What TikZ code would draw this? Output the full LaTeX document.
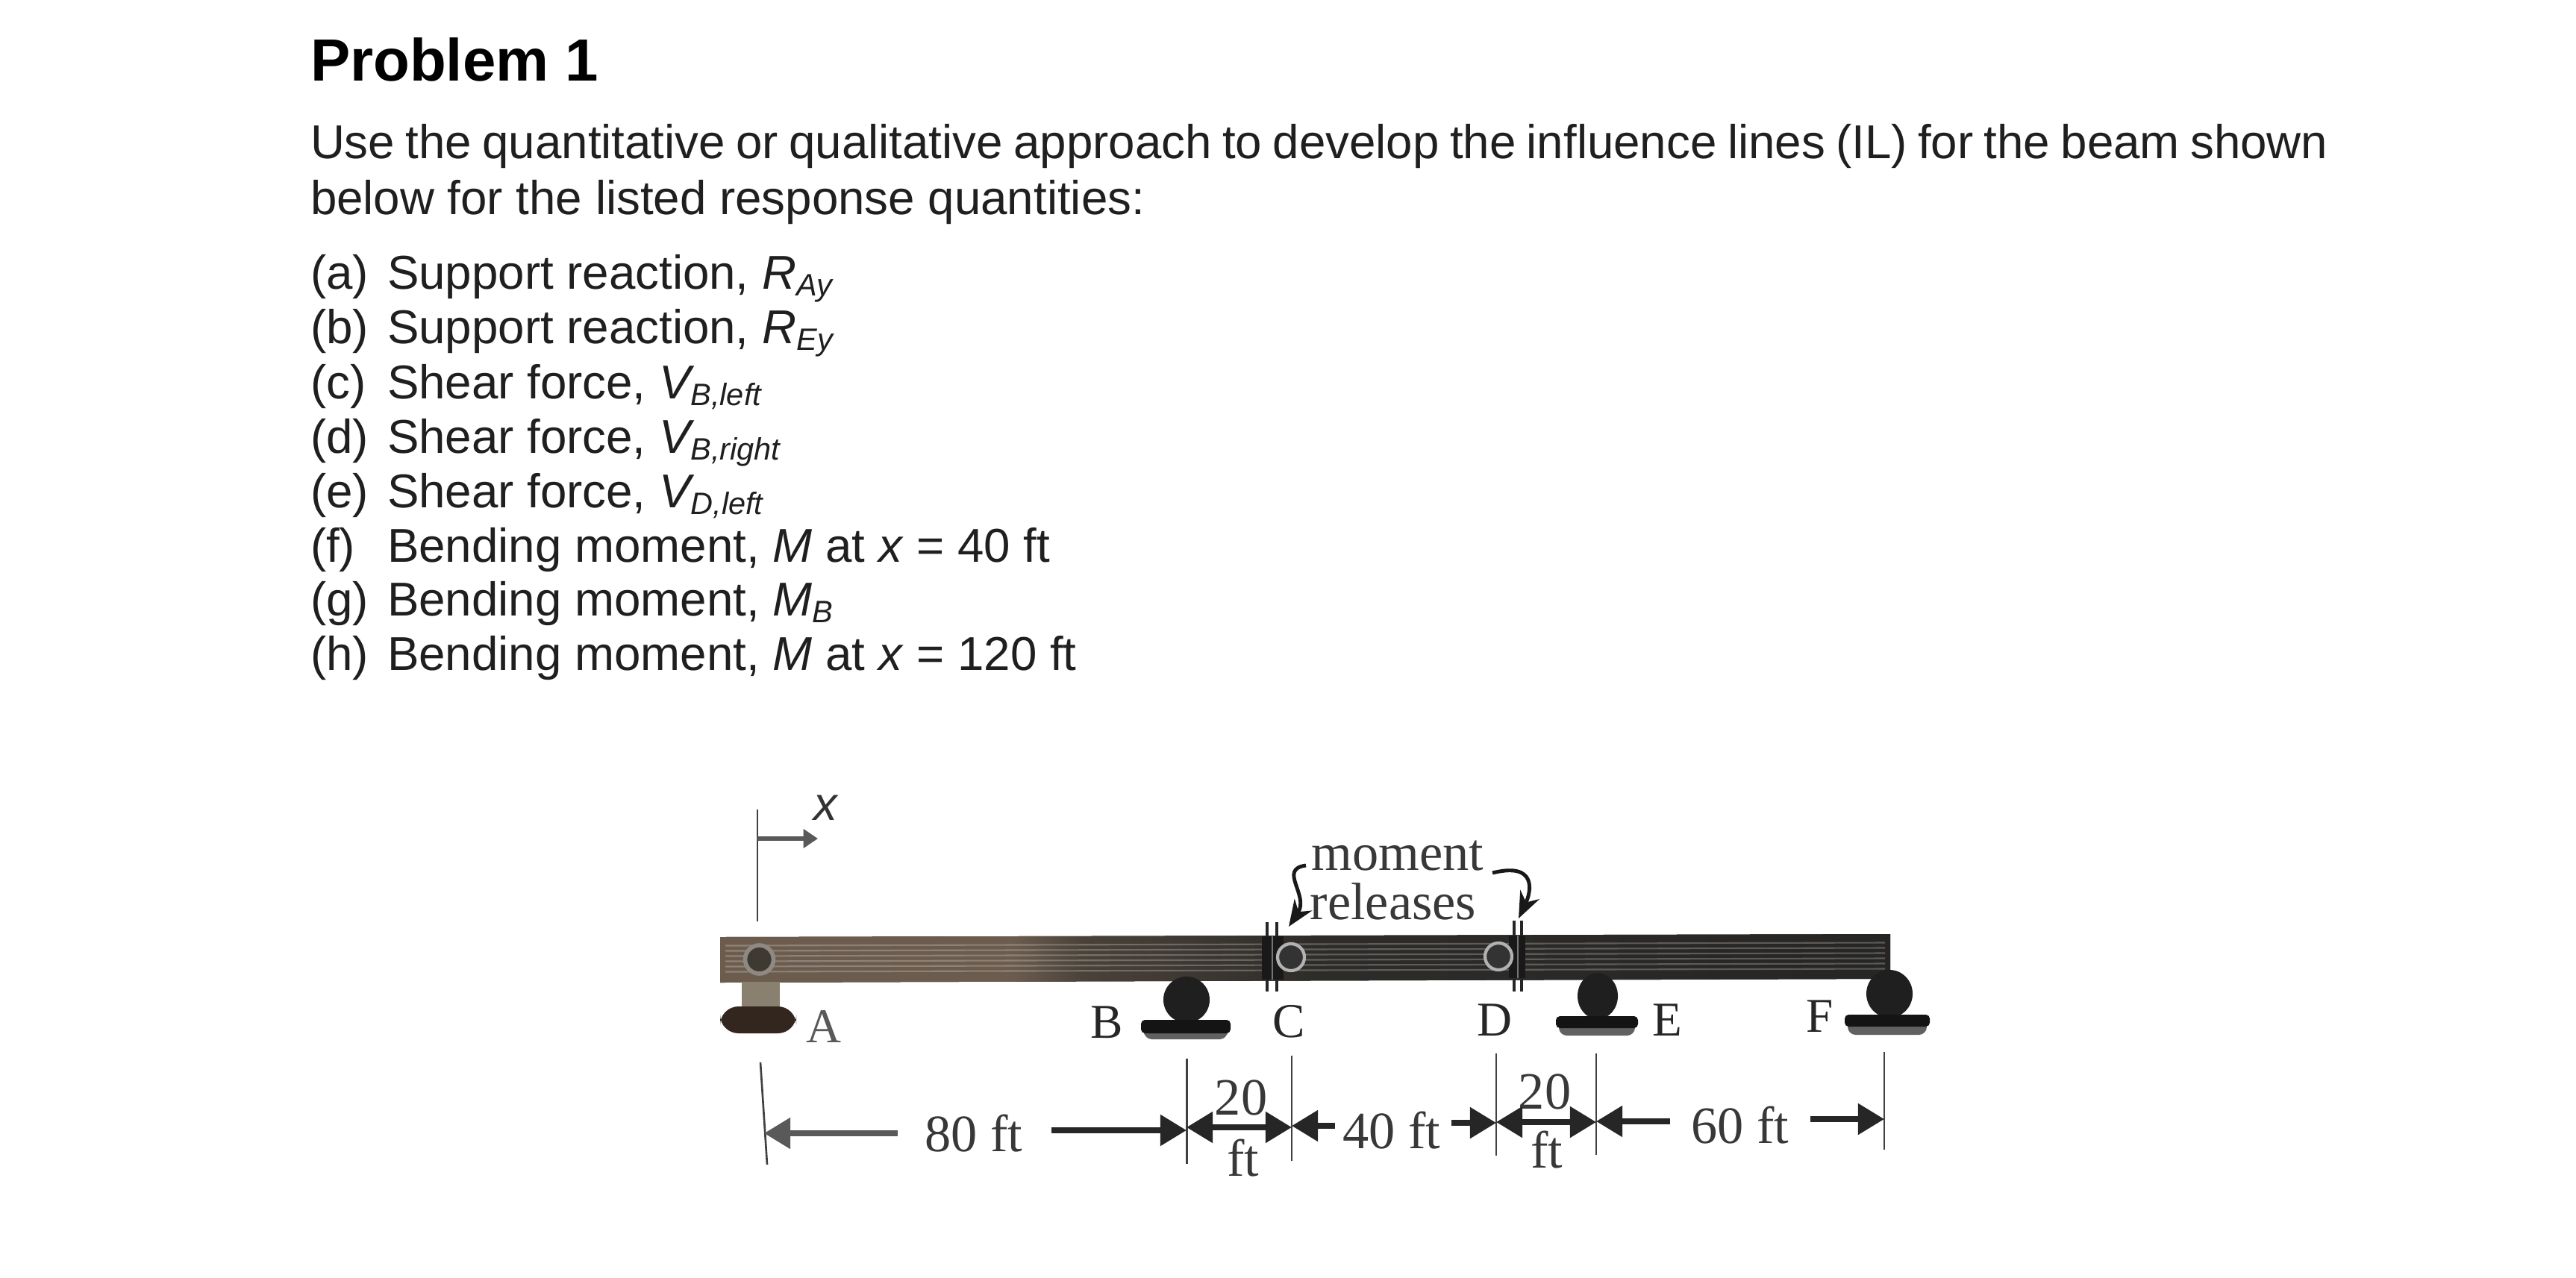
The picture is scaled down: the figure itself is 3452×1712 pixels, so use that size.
\documentclass[tikz,border=0pt]{standalone}
\usepackage{fontspec}
\setmainfont{Liberation Sans}
\newfontfamily\lblserif{Liberation Serif}
\usetikzlibrary{arrows.meta}
\definecolor{beamA}{HTML}{6B5C4E}
\definecolor{beamB}{HTML}{4A4239}
\definecolor{beamC}{HTML}{2E2C29}
\definecolor{beamD}{HTML}{222222}
\definecolor{postcol}{HTML}{8A8070}
\definecolor{basecol}{HTML}{33261F}
\pgfdeclarehorizontalshading{beamshade}{100bp}{
  color(0bp)=(beamA); color(25bp)=(beamA); color(28bp)=(beamB); color(38bp)=(beamC); color(75bp)=(beamD)}
\newcommand{\lowidx}[1]{\raisebox{-0.28ex}{\fontsize{11.8pt}{14pt}\selectfont\itshape #1}}
\tikzset{
  x=0.01cm,y=-0.01cm,
  txt/.style={anchor=base west,inner sep=0pt,outer sep=0pt,text=black!88,font=\fontsize{18.1pt}{21pt}\selectfont},
  ttl/.style={anchor=base west,inner sep=0pt,outer sep=0pt,text=black,font=\fontsize{22.7pt}{26pt}\selectfont\bfseries},
  lbl/.style={inner sep=0pt,outer sep=0pt,text=black!85,font=\lblserif\fontsize{18.5pt}{21pt}\selectfont},
  dimtxt/.style={inner sep=0pt,outer sep=0pt,text=black!78,font=\lblserif\fontsize{20pt}{22pt}\selectfont},
  thin tick/.style={line width=0.75pt,draw=black!75},
  dimline/.style={line width=2.1pt,draw=black!85,-{Triangle[length=10pt,width=11.5pt]}},
  curly/.style={line width=1.4pt,draw=black!90,-{Stealth[length=10pt,width=8pt]}},
  ring/.style={line width=1.2pt,draw=black!30,fill=black!80},
  stripe/.style={line width=0.6pt,draw=white,opacity=0.24},
  rollerball/.style={fill=black!88},
  rollerbase/.style={fill=black!92,rounded corners=1.5pt},
  rollershade/.style={fill=black!62,rounded corners=3pt},
}
\begin{document}
\begin{tikzpicture}
\useasboundingbox (0,0) rectangle (3452,1712);
\fill[white] (0,0) rectangle (3452,1712);
% heading and list
\node[ttl] (title) at (416,108) {Problem 1};
\node[txt] (p1) at (416,212) {\spaceskip=4.1pt Use the quantitative or qualitative approach to develop the influence lines (IL) for the beam shown};
\node[txt] (p2) at (416,287) {below for the listed response quantities:};
\node[txt] (la) at (416,387) {(a)};
\node[txt] (ta) at (519,387) {Support reaction, \textit{R}\lowidx{Ay}};
\node[txt] (lb) at (416,460) {(b)};
\node[txt] (tb) at (519,460) {Support reaction, \textit{R}\lowidx{Ey}};
\node[txt] (lc) at (416,534) {(c)};
\node[txt] (tc) at (519,534) {Shear force, \textit{V}\kern-1.5pt\lowidx{B,left}};
\node[txt] (ld) at (416,607) {(d)};
\node[txt] (td) at (519,607) {Shear force, \textit{V}\kern-1.5pt\lowidx{B,right}};
\node[txt] (le) at (416,680) {(e)};
\node[txt] (te) at (519,680) {Shear force, \textit{V}\kern-1.5pt\lowidx{D,left}};
\node[txt] (lf) at (416,753) {(f)};
\node[txt] (tf) at (519,753) {Bending moment, \textit{M} at \textit{x} = 40 ft};
\node[txt] (lg) at (416,825) {(g)};
\node[txt] (tg) at (519,825) {Bending moment, \textit{M}\lowidx{B}};
\node[txt] (lh) at (416,898) {(h)};
\node[txt] (th) at (519,898) {Bending moment, \textit{M} at \textit{x} = 120 ft};
% x axis marker
\coordinate (xtop) at (1015,1085);
\coordinate (xbot) at (1015,1235);
\coordinate (xorg) at (1015,1124);
\coordinate (xtip) at (1096,1124);
\draw[thin tick] (xtop) -- (xbot);
\draw[line width=1.5pt,draw=black!65,-{Triangle[length=5.5pt,width=7pt]}] (xorg) -- (xtip);
\node[inner sep=0pt,text=black!80,font=\fontsize{18pt}{20pt}\selectfont\itshape] (xlab) at (1106,1083) {x};
% beam
\fill[shading=beamshade] (965,1256) -- (2533,1252) -- (2533,1312) -- (965,1317) -- cycle;
\foreach \yy in {1267,1274,1281,1288,1295,1302}
  \draw[stripe] (972,\yy+0.5) -- (2526,\yy-3.5);
% pinned support A
\fill[postcol] (994,1316) rectangle (1045,1352);
\fill[basecol,rounded corners=7pt] (965,1349) rectangle (1067,1385);
\draw[line width=1.6pt,draw=black!32!postcol!70!white,fill=black!55!postcol] (1017.5,1286) circle [radius=19];
% rollers
\fill[rollershade] (1533,1376) rectangle (1645,1393);
\fill[rollerball] (1590,1340) ellipse [x radius=31, y radius=31];
\fill[rollerbase] (1529,1367) rectangle (1649,1385);
\fill[rollershade] (2089,1368) rectangle (2191,1388);
\fill[rollerball] (2141,1335) ellipse [x radius=27, y radius=31];
\fill[rollerbase] (2085,1362) rectangle (2195,1378);
\fill[rollershade] (2476,1366) rectangle (2582,1387);
\fill[rollerball] (2532,1332) ellipse [x radius=31, y radius=32];
\fill[rollerbase] (2472,1360) rectangle (2586,1376);
% moment releases
\draw[line width=1pt,draw=black!85] (1698,1236) -- (1698,1329);
\draw[line width=1pt,draw=black!85] (1711,1236) -- (1711,1329);
\draw[line width=1pt,draw=black!85] (2029,1234) -- (2029,1329);
\draw[line width=1pt,draw=black!85] (2039,1234) -- (2039,1329);
\fill[black!90] (1691,1255) rectangle (1720,1313);
\fill[black!90] (2022,1254) rectangle (2044,1311);
\draw[draw=white,line width=0.5pt,opacity=0.4] (1705,1255) -- (1705,1313);
\draw[draw=white,line width=0.5pt,opacity=0.4] (2034,1254) -- (2034,1311);
\draw[ring] (1730,1283) circle [radius=18];
\draw[ring] (2008,1282) circle [radius=18];
% point labels
\node[lbl,text=black!65] (A) at (1104,1376) {A};
\node[lbl] (B) at (1483,1370) {B};
\node[lbl] (C) at (1727,1369) {C};
\node[lbl] (D) at (2003,1367) {D};
\node[lbl] (E) at (2234,1367) {E};
\node[lbl] (F) at (2439,1362) {F};
% moment release labels
\node[dimtxt] (mom) at (1873,1147) {moment};
\node[dimtxt] (rel) at (1867,1208) {releases};
\coordinate (cs) at (1750,1160);
\coordinate (ct) at (1727,1242);
\coordinate (ds) at (2000,1170);
\coordinate (dt) at (2035,1231);
\draw[curly] (cs) .. controls (1712,1165) and (1755,1200) .. (ct);
\draw[curly] (ds) .. controls (2060,1155) and (2052,1195) .. (dt);
% dimension ticks
\coordinate (ta1) at (1019,1424); \coordinate (ta2) at (1028,1561);
\coordinate (tb1) at (1590.5,1419); \coordinate (tb2) at (1590.5,1560);
\coordinate (tc1) at (1731,1415); \coordinate (tc2) at (1731,1556);
\coordinate (td1) at (2005,1412); \coordinate (td2) at (2005,1549);
\coordinate (te1) at (2139,1412); \coordinate (te2) at (2139,1548);
\coordinate (tf1) at (2525,1410); \coordinate (tf2) at (2525,1541);
\foreach \t in {a,b,c,d,e,f} \draw[thin tick] (t\t1) -- (t\t2);
% dimension texts
\node[dimtxt] (d80) at (1305,1519) {80 ft};
\node[dimtxt] (d20a) at (1663,1471) {20};
\node[dimtxt] (d20aft) at (1666,1552) {ft};
\node[dimtxt] (d40) at (1865,1515) {40 ft};
\node[dimtxt] (d20b) at (2070,1463) {20};
\node[dimtxt] (d20bft) at (2073,1541) {ft};
\node[dimtxt] (d60) at (2332,1508) {60 ft};
% dimension arrows
\coordinate (a1) at (1203,1519); \coordinate (a0) at (1024,1519);
\coordinate (b1) at (1409,1515); \coordinate (b0) at (1590,1515);
\coordinate (bc) at (1660,1511); \coordinate (bc0) at (1590,1511); \coordinate (bc1) at (1731,1511);
\coordinate (c1) at (1789,1509); \coordinate (c0) at (1731,1509);
\coordinate (d1) at (1945,1505); \coordinate (d0) at (2005,1505);
\coordinate (de) at (2072,1504); \coordinate (de0) at (2005,1504); \coordinate (de1) at (2139,1504);
\coordinate (e1) at (2238,1503); \coordinate (e0) at (2139,1503);
\coordinate (f1) at (2426,1500); \coordinate (f0) at (2525,1500);
\draw[dimline,draw=black!65] (a1) -- (a0);
\draw[dimline] (b1) -- (b0);
\draw[dimline] (bc) -- (bc0);
\draw[dimline] (bc) -- (bc1);
\draw[dimline] (c1) -- (c0);
\draw[dimline] (d1) -- (d0);
\draw[dimline] (de) -- (de0);
\draw[dimline] (de) -- (de1);
\draw[dimline] (e1) -- (e0);
\draw[dimline] (f1) -- (f0);
\end{tikzpicture}
\end{document}
